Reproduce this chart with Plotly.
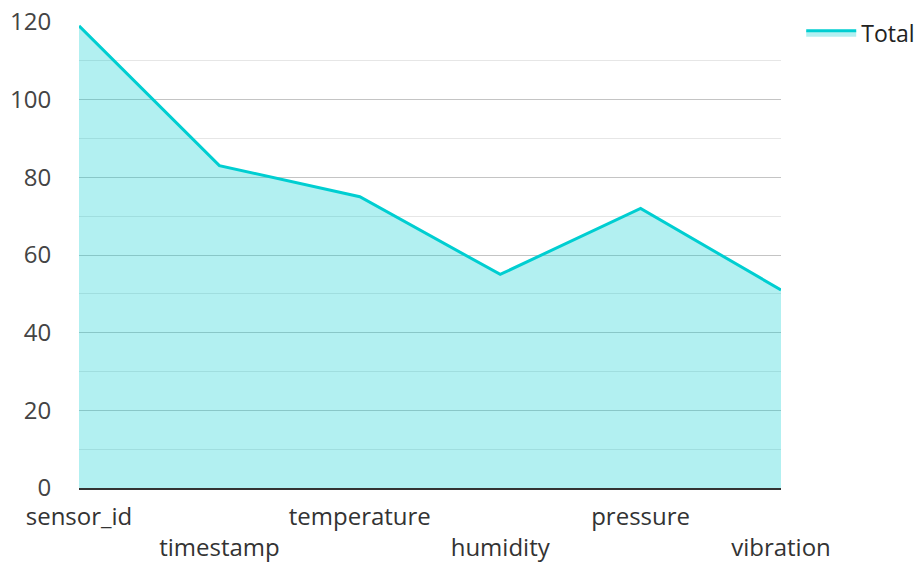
import plotly.graph_objects as go

categories = ["sensor_id", "timestamp", "temperature", "humidity", "pressure", "vibration"]
totals = [119, 83, 75, 55, 72, 51]
series_name = "Total"

tick_text = [c if i % 2 == 0 else "<br>" + c for i, c in enumerate(categories)]

fig = go.Figure()
fig.add_trace(go.Scatter(
    x=categories, y=totals, name=series_name, mode="lines",
    line=dict(color="#00CED1", width=3),
    fill="tozeroy", fillcolor="rgba(0,206,209,0.3)",
))

fig.update_layout(
    width=922, height=562,
    margin=dict(l=79, r=141, t=22, b=74),
    paper_bgcolor="white", plot_bgcolor="white",
    font=dict(family="Open Sans", size=24, color="#444"),
    showlegend=True,
    legend=dict(xref="container", yref="container", x=0.869, y=0.98,
                xanchor="left", yanchor="top",
                itemwidth=50,
                font=dict(size=23, color="#222"), bgcolor="rgba(0,0,0,0)"),
    xaxis=dict(
        type="category", range=[0, 5], automargin=False,
        tickmode="array", tickvals=categories, ticktext=tick_text,
        showgrid=False, showline=True, linecolor="#333", linewidth=2,
        ticks="outside", ticklen=6, tickcolor="rgba(0,0,0,0)",
        tickfont=dict(size=24, color="#333"),
    ),
    yaxis=dict(
        range=[0, 120], dtick=20, tick0=0, automargin=False,
        showgrid=True, gridcolor="#c4c4c4", gridwidth=1,
        minor=dict(dtick=10, showgrid=True, gridcolor="#e6e6e6", gridwidth=1),
        zeroline=False, showline=False,
        ticks="outside", ticklen=22, tickcolor="rgba(0,0,0,0)",
        tickfont=dict(size=24, color="#444"),
    ),
)

fig.write_html("out.html", config={"displayModeBar": False},
               post_script="document.body.style.margin='0';document.body.style.overflow='hidden';")
